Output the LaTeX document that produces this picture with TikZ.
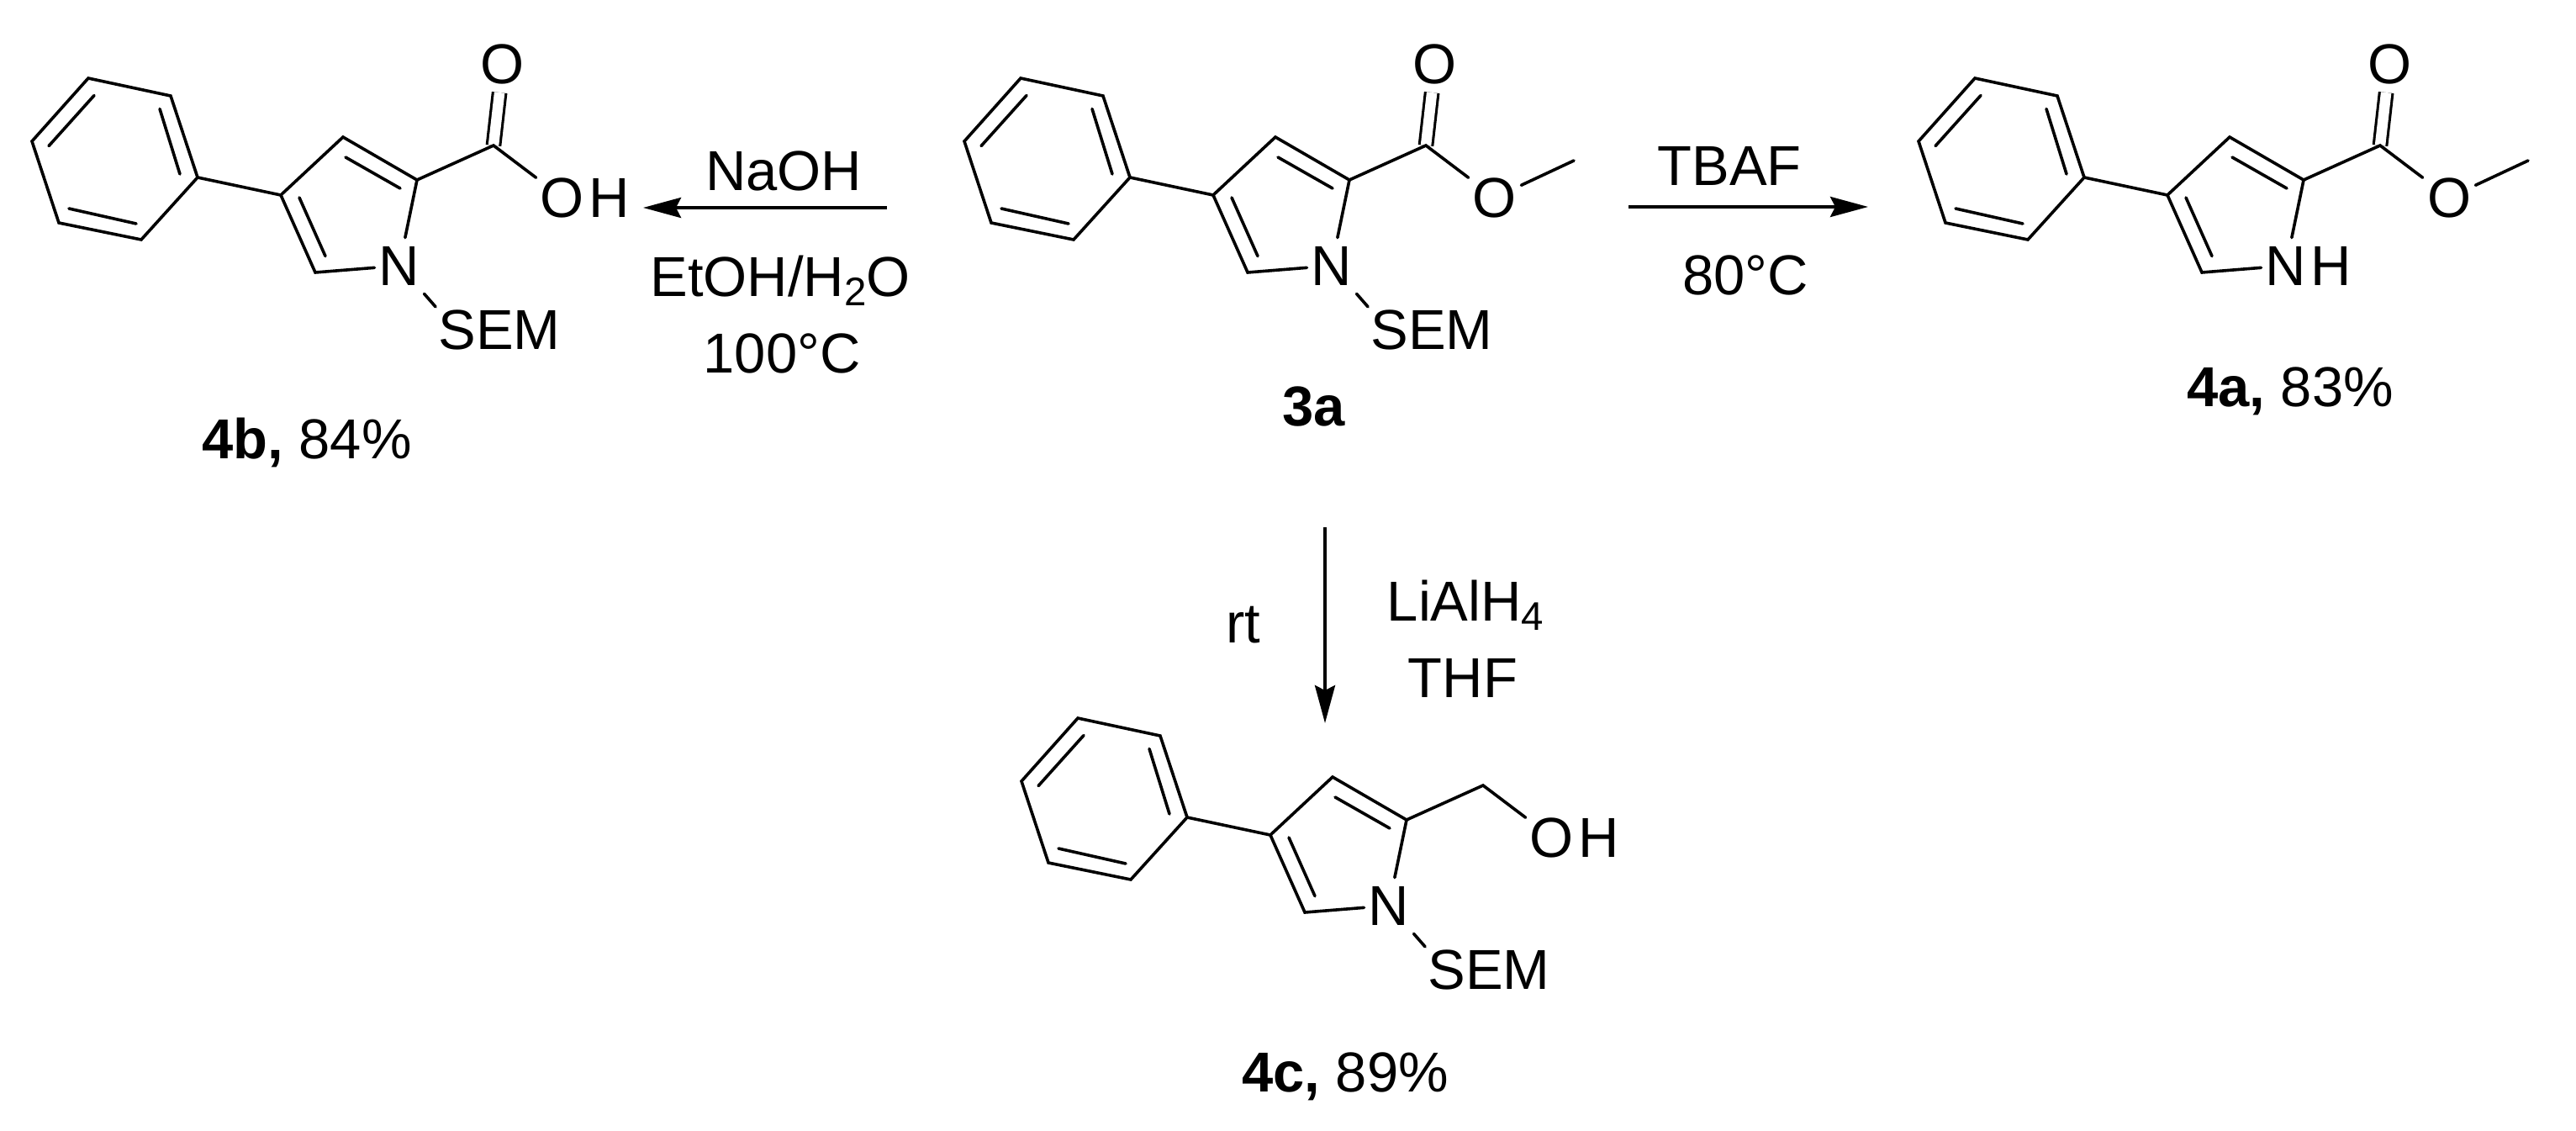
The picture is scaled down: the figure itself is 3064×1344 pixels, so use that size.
\documentclass[tikz,border=0pt]{standalone}
\usepackage{fontspec}
\setmainfont{Liberation Sans}
\usetikzlibrary{positioning}
\usetikzlibrary{arrows.meta}
\newcommand{\chemfont}{\fontsize{38.1}{46}\selectfont}
\newcommand{\subdigit}[1]{\raisebox{-2.2mm}{\fontsize{27}{30}\selectfont #1}}

\tikzset{
	bond/.style={line width=0.72mm, line join=miter, line cap=round},
	cobond/.style={line width=0.62mm, double, double distance=2.5mm},
	atom/.style={font=\chemfont, inner xsep=1mm, inner ysep=2mm, anchor=base},
	group/.style={font=\chemfont, inner sep=0.6mm, anchor=base},
	reagent/.style={font=\chemfont, inner sep=0pt, anchor=base},
	rxn/.style={line width=0.8mm, -{Stealth[length=9mm, width=4.8mm, inset=1.2mm]}},
	% ---------------------
	% Phenyl-pyrrole core with the side chain at C2
	pics/core/.style={code={
		\coordinate (-Ph1) at (1214,93);
		\coordinate (-Ph2) at (1312,114);
		\coordinate (-Ph3) at (1344,211);
		\coordinate (-Ph4) at (1277,285);
		\coordinate (-Ph5) at (1179,265);
		\coordinate (-Ph6) at (1147,168);
		\coordinate (-C4) at (1443,232);
		\coordinate (-C3) at (1517,163);
		\coordinate (-C2) at (1605,214);
		\coordinate (-C5) at (1484,324);
		\coordinate (-Side) at (1696,173);
		\node[atom] (-N) at (1584,339) {#1};
		\node[atom] (-O) at (1778,258) {O};
		
		\draw[bond] (-Ph1) -- (-Ph2) -- (-Ph3) -- (-Ph4) -- (-Ph5) -- (-Ph6) -- cycle;
		\draw[bond] (1221,113.5) -- (1167,173.6);
		\draw[bond] (1299,129.5) -- (1323,207);
		\draw[bond] (1191,248) -- (1271,266);
		
		\draw[bond] (-Ph3) -- (-C4);
		\draw[bond] (-N) -- (-C2) -- (-C3) -- (-C4) -- (-C5) -- (-N);
		\draw[bond] (1520,187) -- (1585,224);
		\draw[bond] (1465,235) -- (1496,304.6);
		
		\draw[bond] (-C2) -- (-Side) -- (-O);
	}},
	% ---------------------
	% Must come before the core, so the chain lies on top
	pics/carbonyl/.style={code={
		\coordinate (-Side) at (1696,173);
		\node[atom] (-Otop) at (1707,99) {O};
		\draw[cobond] (-Side) -- (-Otop);
	}},
	pics/sem/.style={code={
		\node[group] (-SEM) at (1703,415) {SEM};
		\draw[bond] (-N.south east) -- (-SEM.north west);
	}},
	pics/methyl/.style={code={
		\coordinate (-Me) at (1872,191);
		\draw[bond] (-O) -- (-Me);
	}},
}

\begin{document}
\begin{tikzpicture}[x=0.2mm,y=-0.2mm]
	\useasboundingbox (0,0) rectangle (3064,1344);
	
	% ---------------------
	% Starting material
	\pic (m3a) at (0,0) {carbonyl};
	\pic (m3a) at (0,0) {core=N};
	\pic (m3a) at (0,0) {sem};
	\pic (m3a) at (0,0) {methyl};
	\node[group, inner sep=0pt] (name3a) at (1563,506) {\textbf{3a}};
	
	% ---------------------
	% Acid
	\pic (m4b) at (-1109,0) {carbonyl};
	\pic (m4b) at (-1109,0) {core=N};
	\pic (m4b) at (-1109,0) {sem};
	\node[atom, inner xsep=0pt, base right=0pt of m4b-O] (m4b-H) {H};
	\node[group, inner sep=0pt] (name4b) at (365,545) {\textbf{4b,} 84\%};
	
	% ---------------------
	% Deprotected ester
	\pic (m4a) at (1135,0) {carbonyl};
	\pic (m4a) at (1135,0) {core=N};
	\pic (m4a) at (1135,0) {methyl};
	\node[atom, inner xsep=0pt, base right=0pt of m4a-N] (m4a-H) {H};
	\node[group, inner sep=0pt] (name4a) at (2724,483) {\textbf{4a,} 83\%};
	
	% ---------------------
	% Alcohol
	\pic (m4c) at (68,761) {core=N};
	\pic (m4c) at (68,761) {sem};
	\node[atom, inner xsep=0pt, base right=0pt of m4c-O] (m4c-H) {H};
	\node[group, inner sep=0pt] (name4c) at (1600,1298) {\textbf{4c,} 89\%};
	
	% ---------------------
	% Arrows
	\coordinate (NaOHstart) at (1055,247);
	\coordinate (NaOHend) at (765,247);
	\coordinate (TBAFstart) at (1937,246);
	\coordinate (TBAFend) at (2222,246);
	\coordinate (LAHstart) at (1576,627);
	\coordinate (LAHend) at (1576,860);
	\draw[rxn] (NaOHstart) -- (NaOHend);
	\draw[rxn] (TBAFstart) -- (TBAFend);
	\draw[rxn] (LAHstart) -- (LAHend);
	
	% ---------------------
	% Conditions
	\node[reagent] (naoh) at (932,226) {NaOH};
	\node[reagent] (etoh) at (928,352) {EtOH/H\subdigit{2}O};
	\node[reagent] (hot100) at (930,443) {100°C};
	\node[reagent] (tbaf) at (2057,220) {TBAF};
	\node[reagent] (hot80) at (2076,350) {80°C};
	\node[reagent] (rt) at (1479,764) {rt};
	\node[reagent] (lah) at (1743,738) {LiAlH\subdigit{4}};
	\node[reagent] (thf) at (1740,829) {THF};
	
\end{tikzpicture}
\end{document}
